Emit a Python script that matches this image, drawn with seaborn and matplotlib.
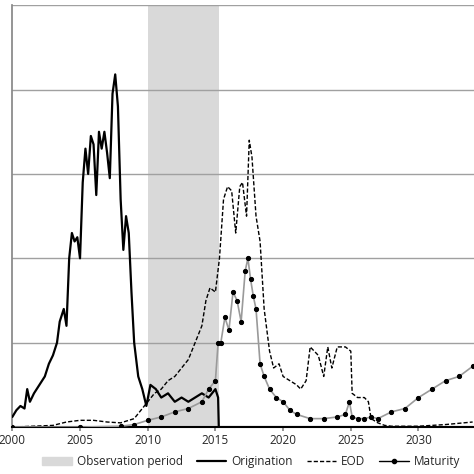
import matplotlib
matplotlib.use("Agg")
import matplotlib.pyplot as plt
import seaborn as sns
from matplotlib.patches import Patch
from matplotlib.lines import Line2D

sns.set_theme(style="white")
plt.rcParams['font.family'] = ['Open Sans', 'DejaVu Sans']

orig_x = [2000,2000.3,2000.6,2000.9,2001.1,2001.3,2001.6,2002,2002.4,2002.7,2003,2003.3,2003.5,2003.8,2004,2004.2,2004.4,2004.6,2004.8,2005,2005.2,2005.4,2005.6,2005.8,2006,2006.2,2006.4,2006.6,2006.8,2007,2007.2,2007.4,2007.6,2007.8,2008,2008.2,2008.4,2008.6,2008.8,2009,2009.3,2009.6,2009.9,2010.2,2010.6,2011,2011.5,2012,2012.5,2013,2013.5,2014,2014.5,2015,2015.2,2015.25,2034]
orig_y = [0.12,0.2,0.25,0.22,0.45,0.3,0.4,0.5,0.6,0.75,0.85,1.0,1.25,1.4,1.2,2.0,2.3,2.2,2.25,2.0,2.9,3.3,3.0,3.45,3.35,2.75,3.5,3.3,3.5,3.25,2.95,3.95,4.18,3.8,2.7,2.1,2.5,2.3,1.6,1.0,0.6,0.45,0.25,0.5,0.45,0.35,0.4,0.3,0.35,0.3,0.35,0.4,0.35,0.45,0.35,0.0,0.0]

eod_x = [2000,2003,2004,2005,2006,2007,2008,2009,2009.5,2010,2010.5,2011,2011.5,2012,2012.5,2013,2013.5,2014,2014.3,2014.6,2015,2015.3,2015.6,2015.9,2016.2,2016.5,2016.8,2017,2017.3,2017.5,2017.7,2018,2018.3,2018.6,2019,2019.3,2019.7,2020,2020.5,2021,2021.3,2021.7,2022,2022.3,2022.6,2023,2023.3,2023.6,2024,2024.3,2024.6,2025,2025.1,2025.5,2026,2026.3,2026.5,2027,2027.5,2028,2030,2032,2034]
eod_y = [0.0,0.02,0.06,0.08,0.08,0.06,0.05,0.1,0.2,0.3,0.4,0.45,0.55,0.6,0.7,0.8,1.0,1.2,1.5,1.65,1.6,2.0,2.7,2.85,2.8,2.3,2.85,2.9,2.5,3.4,3.2,2.5,2.2,1.4,0.9,0.7,0.75,0.6,0.55,0.5,0.45,0.55,0.95,0.9,0.85,0.6,0.95,0.7,0.95,0.95,0.95,0.9,0.4,0.35,0.35,0.3,0.1,0.05,0.02,0.01,0.01,0.03,0.06]

mat_x = [2000,2005,2008,2009,2010,2011,2012,2013,2014,2014.5,2015,2015.2,2015.4,2015.7,2016,2016.3,2016.6,2016.9,2017.2,2017.4,2017.6,2017.8,2018,2018.3,2018.6,2019,2019.5,2020,2020.5,2021,2022,2023,2024,2024.6,2024.9,2025.1,2025.5,2026,2026.5,2027,2028,2029,2030,2031,2032,2033,2034]
mat_y = [0.0,0.0,0.01,0.03,0.08,0.12,0.18,0.22,0.3,0.45,0.55,1.0,1.0,1.3,1.15,1.6,1.5,1.25,1.85,2.0,1.75,1.55,1.4,0.75,0.6,0.45,0.35,0.3,0.2,0.15,0.1,0.1,0.12,0.15,0.3,0.12,0.1,0.1,0.12,0.1,0.18,0.22,0.35,0.45,0.55,0.6,0.72]

xticks = [2000,2005,2010,2015,2020,2025,2030]
obs_start, obs_end = 2010.0, 2015.3

fig = plt.figure(figsize=(4.74,4.74), dpi=100)
ax = fig.add_axes([0.026,0.099,0.974,0.89])
ax.axvspan(obs_start, obs_end, color="#d9d9d9", lw=0, zorder=0)
for yv in [1,2,3,4,5]:
    ax.axhline(yv, color="#a0a0a0", lw=1, zorder=1)
sns.lineplot(x=orig_x, y=orig_y, ax=ax, color="black", lw=1.6, zorder=3)
sns.lineplot(x=eod_x, y=eod_y, ax=ax, color="black", lw=1.0, linestyle=(0,(3,1.5)), zorder=3)
sns.lineplot(x=mat_x, y=mat_y, ax=ax, color="#9a9a9a", lw=1.2, marker="o", markersize=3,
             markerfacecolor="black", markeredgecolor="black", zorder=4)
ax.set_xlim(2000, 2034.1)
ax.set_ylim(0, 5)
ax.set_xticks(xticks)
ax.set_xticklabels([str(t) for t in xticks], fontsize=8.5)
ax.set_yticks([])
for s in ["top","right"]:
    ax.spines[s].set_visible(False)
ax.spines["left"].set_color("#888888")
ax.spines["bottom"].set_color("black")
ax.spines["bottom"].set_linewidth(1.5)
ax.tick_params(axis="x", length=3, color="#888888", pad=2, bottom=True)
handles = [Patch(color="#d9d9d9", label="Observation period"),
           Line2D([],[],color="black",lw=1.6,label="Origination"),
           Line2D([],[],color="black",lw=1.0,linestyle=(0,(3,1.5)),label="EOD"),
           Line2D([],[],color="black",lw=1.0,marker="o",markersize=3,label="Maturity")]
fig.legend(handles=handles, loc="lower center", ncol=4, frameon=False, fontsize=8.5,
           bbox_to_anchor=(0.53,-0.01), handlelength=2.5, columnspacing=1.2, handletextpad=0.4)
fig.savefig("out.png", dpi=100)
